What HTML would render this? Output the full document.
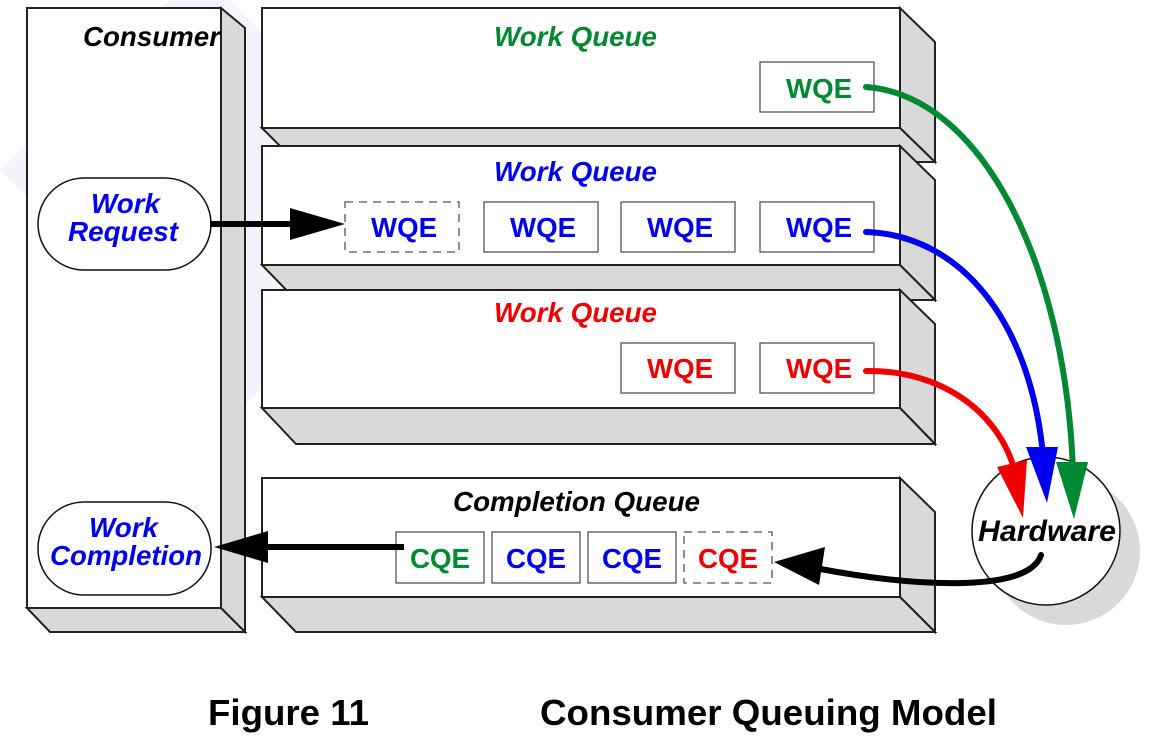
<!DOCTYPE html>
<html><head><meta charset="utf-8"><style>
html,body{margin:0;padding:0;background:#fff;}
svg{display:block;font-family:"Liberation Sans",sans-serif;}
</style></head><body>
<svg width="1159" height="751" viewBox="0 0 1159 751" xmlns="http://www.w3.org/2000/svg">
<g fill="#f3f3fc">
<polygon points="0,170 200,-30 330,100 130,300"/>
<polygon points="40,330 260,110 400,250 180,470"/>
</g>
<g stroke="#222" stroke-width="2" stroke-linejoin="miter">
<polygon points="221,8 245,28 245,632 221,608" fill="#d9d9d9"/>
<polygon points="27,608 221,608 245,632 50,632" fill="#d9d9d9"/>
<rect x="27" y="8" width="194" height="600" fill="#fff"/>
<polygon points="900,8 935,42 935,162 900,128" fill="#d9d9d9"/>
<polygon points="262,128 900,128 935,162 296,162" fill="#d9d9d9"/>
<rect x="262" y="8" width="638" height="120" fill="#fff"/>
<polygon points="900,146 935,180 935,300 900,265" fill="#d9d9d9"/>
<polygon points="262,265 900,265 935,300 296,300" fill="#d9d9d9"/>
<rect x="262" y="146" width="638" height="119" fill="#fff"/>
<polygon points="900,290 935,324 935,444 900,408" fill="#d9d9d9"/>
<polygon points="262,408 900,408 935,444 296,444" fill="#d9d9d9"/>
<rect x="262" y="290" width="638" height="118" fill="#fff"/>
<polygon points="900,478 935,512 935,632 900,597" fill="#d9d9d9"/>
<polygon points="262,597 900,597 935,632 296,632" fill="#d9d9d9"/>
<rect x="262" y="478" width="638" height="119" fill="#fff"/>
</g>
<circle cx="1066" cy="551" r="74" fill="#d9d9d9"/>
<circle cx="1046" cy="531" r="74" fill="#fff" stroke="#111" stroke-width="1.5"/>
<rect x="38" y="178" width="173" height="92" rx="46" fill="#fff" stroke="#111" stroke-width="1.5"/>
<rect x="38" y="502" width="173" height="93" rx="46" fill="#fff" stroke="#111" stroke-width="1.5"/>
<g fill="#fff" stroke="#555" stroke-width="1.3">
<rect x="760" y="62" width="114" height="50"/>
<rect x="345" y="202" width="114" height="50" stroke-dasharray="8,6"/>
<rect x="484" y="202" width="114" height="50"/>
<rect x="621" y="202" width="114" height="50"/>
<rect x="760" y="202" width="114" height="50"/>
<rect x="621" y="343" width="114" height="50"/>
<rect x="760" y="343" width="114" height="50"/>
<rect x="396" y="532" width="88" height="51"/>
<rect x="492" y="532" width="88" height="51"/>
<rect x="588" y="532" width="88" height="51"/>
<rect x="684" y="532" width="88" height="51" stroke-dasharray="8,6"/>
</g>
<g font-weight="bold" font-style="italic" font-size="28">
<text x="83" y="46" textLength="137" lengthAdjust="spacingAndGlyphs" fill="#000">Consumer</text>
<text x="494" y="46" textLength="163" lengthAdjust="spacingAndGlyphs" fill="#008833">Work Queue</text>
<text x="494" y="181" textLength="163" lengthAdjust="spacingAndGlyphs" fill="#0000ee">Work Queue</text>
<text x="494" y="322" textLength="163" lengthAdjust="spacingAndGlyphs" fill="#ee0000">Work Queue</text>
<text x="453" y="511" textLength="247" lengthAdjust="spacingAndGlyphs" fill="#000">Completion Queue</text>
<text x="91" y="213" textLength="69" lengthAdjust="spacingAndGlyphs" fill="#0000ee">Work</text>
<text x="68" y="241" textLength="110" lengthAdjust="spacingAndGlyphs" fill="#0000ee">Request</text>
<text x="89" y="537" textLength="69" lengthAdjust="spacingAndGlyphs" fill="#0000ee">Work</text>
<text x="50" y="565" textLength="152" lengthAdjust="spacingAndGlyphs" fill="#0000ee">Completion</text>
<text x="978" y="541" textLength="138" lengthAdjust="spacingAndGlyphs" font-size="30" fill="#000">Hardware</text>
</g>
<g font-weight="bold" font-size="28">
<text x="786" y="98" textLength="66" lengthAdjust="spacingAndGlyphs" fill="#008833">WQE</text>
<text x="371" y="237" textLength="66" lengthAdjust="spacingAndGlyphs" fill="#0000ee">WQE</text>
<text x="510" y="237" textLength="66" lengthAdjust="spacingAndGlyphs" fill="#0000ee">WQE</text>
<text x="647" y="237" textLength="66" lengthAdjust="spacingAndGlyphs" fill="#0000ee">WQE</text>
<text x="786" y="237" textLength="66" lengthAdjust="spacingAndGlyphs" fill="#0000ee">WQE</text>
<text x="647" y="378" textLength="66" lengthAdjust="spacingAndGlyphs" fill="#ee0000">WQE</text>
<text x="786" y="378" textLength="66" lengthAdjust="spacingAndGlyphs" fill="#ee0000">WQE</text>
<text x="410" y="568" textLength="60" lengthAdjust="spacingAndGlyphs" fill="#008833">CQE</text>
<text x="506" y="568" textLength="60" lengthAdjust="spacingAndGlyphs" fill="#0000ee">CQE</text>
<text x="602" y="568" textLength="60" lengthAdjust="spacingAndGlyphs" fill="#0000ee">CQE</text>
<text x="698" y="568" textLength="60" lengthAdjust="spacingAndGlyphs" fill="#ee0000">CQE</text>
</g>
<g fill="none" stroke-width="6" stroke-linecap="round">
<path d="M866,87 C980,95 1065,260 1073,470" stroke="#008833"/>
<path d="M866,232 C960,235 1030,320 1043,455" stroke="#0000ee"/>
<path d="M866,371 C940,370 995,410 1013,465" stroke="#ee0000"/>
<path d="M1041,555 C1030,590 930,590 815,568" stroke="#000"/>
<path d="M210,224 L300,224" stroke="#000" stroke-linecap="butt"/>
<path d="M404,547 L260,547" stroke="#000" stroke-linecap="butt"/>
</g>
<polygon points="1056,462 1088,462 1074,519" fill="#008833"/>
<polygon points="1026,447 1058,447 1047,503" fill="#0000ee"/>
<polygon points="997,467 1027,460 1023,518" fill="#ee0000"/>
<polygon points="774,562 825,547 819,585" fill="#000"/>
<polygon points="345,224 290,208 290,240" fill="#000"/>
<polygon points="214,547 268,531 268,563" fill="#000"/>
<g font-weight="bold" font-size="36.5" fill="#000">
<text x="208" y="725" textLength="161" lengthAdjust="spacingAndGlyphs">Figure 11</text>
<text x="540" y="725" textLength="457" lengthAdjust="spacingAndGlyphs">Consumer Queuing Model</text>
</g>
</svg>
</body></html>
